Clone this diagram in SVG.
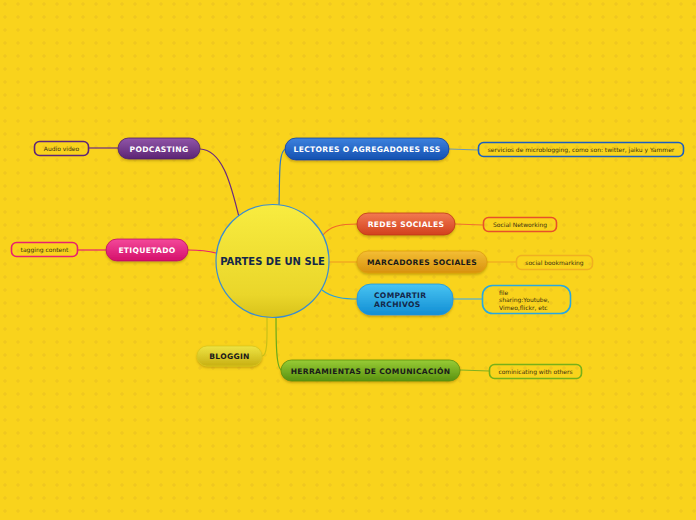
<svg xmlns="http://www.w3.org/2000/svg" width="696" height="520" viewBox="0 0 696 520">
<defs>
<pattern id="bgp" width="13" height="13" patternUnits="userSpaceOnUse">
<rect width="13" height="13" fill="#F9D31C"/>
<path d="M5 2v4M3 4h4" stroke="#EDC520" stroke-width="1"/>
</pattern>
<linearGradient id="gPur" x1="0" y1="0" x2="0" y2="1"><stop offset="0" stop-color="#9056A8"/><stop offset="1" stop-color="#5C2474"/></linearGradient>
<linearGradient id="gPink" x1="0" y1="0" x2="0" y2="1"><stop offset="0" stop-color="#F4489A"/><stop offset="1" stop-color="#D4106A"/></linearGradient>
<linearGradient id="gBlue" x1="0" y1="0" x2="0" y2="1"><stop offset="0" stop-color="#3D82DE"/><stop offset="1" stop-color="#1450B0"/></linearGradient>
<linearGradient id="gRed" x1="0" y1="0" x2="0" y2="1"><stop offset="0" stop-color="#F27A50"/><stop offset="1" stop-color="#D2401E"/></linearGradient>
<linearGradient id="gGold" x1="0" y1="0" x2="0" y2="1"><stop offset="0" stop-color="#F4BE34"/><stop offset="1" stop-color="#D8920E"/></linearGradient>
<linearGradient id="gLb" x1="0" y1="0" x2="0" y2="1"><stop offset="0" stop-color="#48C4F2"/><stop offset="1" stop-color="#128ED4"/></linearGradient>
<linearGradient id="gGreen" x1="0" y1="0" x2="0" y2="1"><stop offset="0" stop-color="#98CC34"/><stop offset="1" stop-color="#5A9212"/></linearGradient>
<linearGradient id="gBlog" x1="0" y1="0" x2="0" y2="1"><stop offset="0" stop-color="#EEE444"/><stop offset="1" stop-color="#C8B012"/></linearGradient>
<linearGradient id="gCen" x1="0" y1="0" x2="0" y2="1"><stop offset="0" stop-color="#F8EC40"/><stop offset="0.8" stop-color="#EAD62A"/><stop offset="1" stop-color="#D8C21A"/></linearGradient>
<filter id="sh" x="-10%" y="-20%" width="120%" height="160%"><feDropShadow dx="0" dy="1.5" stdDeviation="0.8" flood-color="#8A6A00" flood-opacity="0.45"/></filter>
</defs>
<style>
.pt{font-family:"DejaVu Sans",Verdana,sans-serif;font-weight:bold;font-size:7.6px;letter-spacing:0.3px}
.m{text-anchor:middle}
.s{text-anchor:start}
.w{fill:#FFFFFF}
.d{fill:#1A1A1A}
.n{fill:#14284A}
.ct{font-family:"DejaVu Sans",Verdana,sans-serif;font-size:6px;fill:#3A3010}
.cb{fill:none;stroke-width:1.6}
.ln{fill:none;stroke-width:1.2}
</style>
<rect width="696" height="520" fill="url(#bgp)"/>
<g id="connectors">
<path class="ln" stroke="#6A2A80" d="M239 217 C232 190 224 150 200 149"/>
<path class="ln" stroke="#2C78C8" d="M279 205 C280 180 278 150 286 149"/>
<path class="ln" stroke="#F06A2A" d="M322 236 C330 226 340 224 358 224"/>
<path class="ln" stroke="#F0A020" d="M328 262 L358 262"/>
<path class="ln" stroke="#28A0DC" d="M322 290 C332 298 345 299 358 299"/>
<path class="ln" stroke="#E8206E" d="M216 253 C205 250 198 250 188 250"/>
<path class="ln" stroke="#C8C018" d="M267 317 C267 335 268 356 262 356"/>
<path class="ln" stroke="#6AAA1A" d="M276 317 C276 340 276 370 282 370"/>
<path class="ln" stroke="#6A2A80" d="M118 148 L88 148"/>
<path class="ln" stroke="#E8206E" d="M106 250 L78 250"/>
<path class="ln" stroke="#6A98B8" d="M449 149 L478 150"/>
<path class="ln" stroke="#F07030" d="M455 224 L483 225"/>
<path class="ln" stroke="#F0A820" d="M487 262 L516 262"/>
<path class="ln" stroke="#50B0D8" d="M453 299 L482 299"/>
<path class="ln" stroke="#80B020" d="M460 370 L489 371"/>
</g>
<g id="center">
<circle cx="272.5" cy="261" r="56.5" fill="url(#gCen)" stroke="#3A8CD0" stroke-width="1.2"/>
<text x="272.5" y="265" font-family="'DejaVu Sans',Verdana,sans-serif" font-weight="bold" font-size="10px" fill="#14284A" text-anchor="middle">PARTES DE UN SLE</text>
</g>
<g id="podcasting">
<rect x="118" y="138" width="82" height="21" rx="10.5" fill="url(#gPur)" stroke="#4E1C66" stroke-width="0.8" filter="url(#sh)"/>
<text class="pt m w" x="159" y="151.5">PODCASTING</text>
</g>
<g id="audio-video">
<rect class="cb" x="34.5" y="141.5" width="54" height="14" rx="5" stroke="#5E2478"/>
<text class="ct m" x="61.5" y="150.8">Audio video</text>
</g>
<g id="etiquetado">
<rect x="106" y="239" width="82" height="22" rx="11" fill="url(#gPink)" stroke="#C00C5C" stroke-width="0.8" filter="url(#sh)"/>
<text class="pt m w" x="147" y="252.5">ETIQUETADO</text>
</g>
<g id="tagging-content">
<rect class="cb" x="11.5" y="242.5" width="66" height="14" rx="5" stroke="#E8206E"/>
<text class="ct m" x="44.5" y="251.8">tagging content</text>
</g>
<g id="lectores">
<rect x="285" y="138" width="164" height="22" rx="11" fill="url(#gBlue)" stroke="#0E4498" stroke-width="0.8" filter="url(#sh)"/>
<text class="pt m w" x="367" y="151.5">LECTORES O AGREGADORES RSS</text>
</g>
<g id="servicios">
<rect class="cb" x="478.5" y="142.5" width="205" height="14" rx="5" stroke="#1A5EC0"/>
<text class="ct m" x="581" y="151.8">servicios de microblogging, como son: twitter, jaiku y Yammer</text>
</g>
<g id="redes">
<rect x="357" y="213" width="98" height="22" rx="11" fill="url(#gRed)" stroke="#C03A18" stroke-width="0.8" filter="url(#sh)"/>
<text class="pt m w" x="406" y="226.5">REDES SOCIALES</text>
</g>
<g id="social-networking">
<rect class="cb" x="483.5" y="217.5" width="73" height="14" rx="5" stroke="#E8502A"/>
<text class="ct m" x="520" y="226.8">Social Networking</text>
</g>
<g id="marcadores">
<rect x="357" y="251" width="130" height="22" rx="11" fill="url(#gGold)" stroke="#E0A010" stroke-width="0.8" filter="url(#sh)"/>
<text class="pt m d" x="422" y="264.5">MARCADORES SOCIALES</text>
</g>
<g id="social-bookmarking">
<rect class="cb" x="516.5" y="255.5" width="76" height="14" rx="5" stroke="#F0B020"/>
<text class="ct m" x="554.5" y="264.8">social bookmarking</text>
</g>
<g id="compartir">
<rect x="357" y="284" width="96" height="31" rx="14" fill="url(#gLb)" stroke="#1A98D8" stroke-width="0.8" filter="url(#sh)"/>
<text class="pt s n" x="374" y="298">COMPARTIR</text>
<text class="pt s n" x="374" y="307">ARCHIVOS</text>
</g>
<g id="file-sharing">
<rect class="cb" x="482.5" y="285.5" width="88" height="28" rx="10" stroke="#28A8E0"/>
<text class="ct s" x="499" y="295">file</text>
<text class="ct s" x="499" y="302.3">sharing:Youtube,</text>
<text class="ct s" x="499" y="309.6">Vimeo,flickr, etc</text>
</g>
<g id="herramientas">
<rect x="281" y="360" width="179" height="21" rx="10.5" fill="url(#gGreen)" stroke="#5A9010" stroke-width="0.8" filter="url(#sh)"/>
<text class="pt m d" x="370.5" y="373.5">HERRAMIENTAS DE COMUNICACIÓN</text>
</g>
<g id="cominicating">
<rect class="cb" x="489.5" y="364.5" width="92" height="14" rx="5" stroke="#78B018"/>
<text class="ct m" x="535.5" y="373.8">cominicating with others</text>
</g>
<g id="bloggin">
<rect x="197" y="346" width="65" height="20" rx="10" fill="url(#gBlog)" stroke="#D8C820" stroke-width="0.8" filter="url(#sh)"/>
<text class="pt m d" x="229.5" y="359">BLOGGIN</text>
</g>
</svg>
